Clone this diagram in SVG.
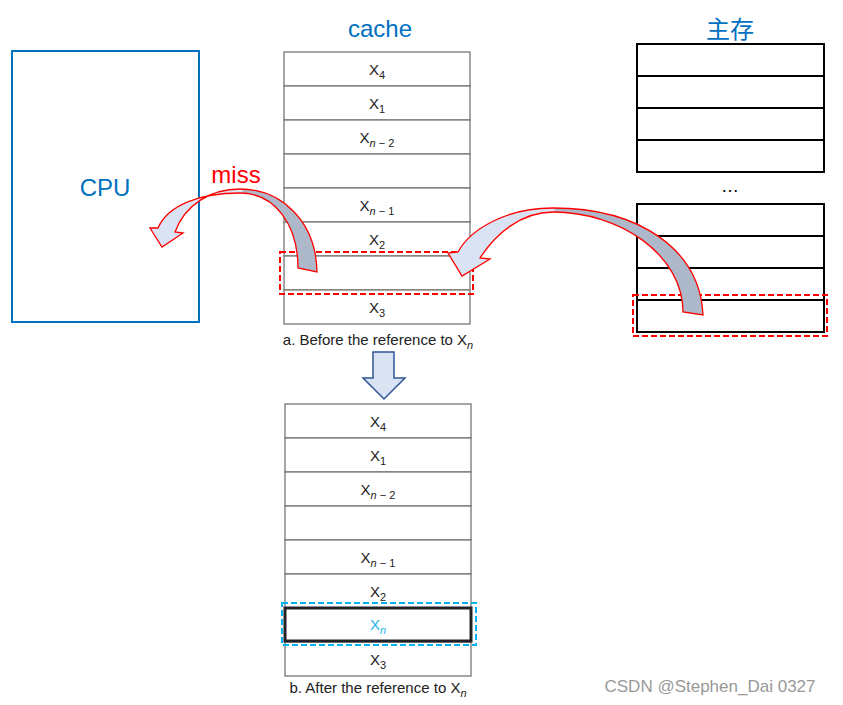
<svg xmlns="http://www.w3.org/2000/svg" width="843" height="705" viewBox="0 0 843 705">
<style>
.c{fill:#fff;stroke:#777;stroke-width:1.3}
.m{fill:#fff;stroke:#000;stroke-width:2}
.t{font-family:"Liberation Sans",Arial,sans-serif;font-size:15px;fill:#222;text-anchor:middle}
.s{font-size:11px}
.b{font-family:"Liberation Sans",Arial,sans-serif;font-size:24px;fill:#0070C0;text-anchor:middle}
.rd{fill:none;stroke:#f00;stroke-width:2;stroke-dasharray:6 3}
</style>
<defs>
<linearGradient id="g1" x1="0" x2="1"><stop offset="0.55" stop-color="#dae3f3"/><stop offset="0.56" stop-color="#adb9ca"/></linearGradient>
<linearGradient id="g2" gradientUnits="userSpaceOnUse" x1="440" x2="710" y1="0" y2="0"><stop offset="0.42" stop-color="#dae3f3"/><stop offset="0.43" stop-color="#adb9ca"/></linearGradient>
</defs>
<g id="cpu"><rect x="12" y="51" width="187" height="271" fill="#fff" stroke="#0070C0" stroke-width="2"/><text class="b" x="105" y="196">CPU</text></g>
<g id="cache-before">
<text class="b" x="380" y="37">cache</text>
<rect class="c" x="284" y="52" width="186" height="34"/><rect class="c" x="284" y="86" width="186" height="34"/><rect class="c" x="284" y="120" width="186" height="34"/><rect class="c" x="284" y="154" width="186" height="34"/><rect class="c" x="284" y="188" width="186" height="34"/><rect class="c" x="284" y="222" width="186" height="34"/><rect class="c" x="284" y="256" width="186" height="34"/><rect class="c" x="284" y="290" width="186" height="34"/>
<text class="t" x="377" y="75">X<tspan class="s" dy="4">4</tspan></text>
<text class="t" x="377" y="109">X<tspan class="s" dy="4">1</tspan></text>
<text class="t" x="377" y="143">X<tspan class="s" dy="4" font-style="italic">n</tspan><tspan class="s"> − 2</tspan></text>
<text class="t" x="377" y="211">X<tspan class="s" dy="4" font-style="italic">n</tspan><tspan class="s"> − 1</tspan></text>
<text class="t" x="377" y="245">X<tspan class="s" dy="4">2</tspan></text>
<text class="t" x="377" y="313">X<tspan class="s" dy="4">3</tspan></text>
<rect class="rd" x="280" y="252" width="193" height="42"/>
<text class="t" x="378" y="345" style="font-size:15px">a. Before the reference to X<tspan class="s" dy="4" font-style="italic">n</tspan></text>
</g>
<g id="memory">
<text class="b" x="730" y="38" style="font-family:'Noto Sans CJK SC',sans-serif">主存</text>
<rect class="m" x="637" y="44" width="187" height="32"/><rect class="m" x="637" y="76" width="187" height="32"/><rect class="m" x="637" y="108" width="187" height="32"/><rect class="m" x="637" y="140" width="187" height="32"/>
<text class="t" x="730" y="192" style="font-size:18px;fill:#000">…</text>
<rect class="m" x="637" y="204" width="187" height="32"/><rect class="m" x="637" y="236" width="187" height="32"/><rect class="m" x="637" y="268" width="187" height="32"/><rect class="m" x="637" y="300" width="187" height="32"/>
<rect class="rd" x="633" y="295" width="194" height="41"/>
</g>
<g id="cache-after">
<rect class="c" x="285" y="404" width="186" height="34"/><rect class="c" x="285" y="438" width="186" height="34"/><rect class="c" x="285" y="472" width="186" height="34"/><rect class="c" x="285" y="506" width="186" height="34"/><rect class="c" x="285" y="540" width="186" height="34"/><rect class="c" x="285" y="574" width="186" height="34"/><rect class="c" x="285" y="642" width="186" height="34"/>
<rect x="285" y="608" width="186" height="33" fill="#fff" stroke="#222" stroke-width="3"/>
<text class="t" x="378" y="427">X<tspan class="s" dy="4">4</tspan></text>
<text class="t" x="378" y="461">X<tspan class="s" dy="4">1</tspan></text>
<text class="t" x="378" y="495">X<tspan class="s" dy="4" font-style="italic">n</tspan><tspan class="s"> − 2</tspan></text>
<text class="t" x="378" y="563">X<tspan class="s" dy="4" font-style="italic">n</tspan><tspan class="s"> − 1</tspan></text>
<text class="t" x="378" y="597">X<tspan class="s" dy="4">2</tspan></text>
<text class="t" x="378" y="630" style="fill:#1fb4e8">X<tspan class="s" dy="4" font-style="italic">n</tspan></text>
<text class="t" x="378" y="665">X<tspan class="s" dy="4">3</tspan></text>
<rect x="282" y="603" width="194" height="42" fill="none" stroke="#00B0F0" stroke-width="2" stroke-dasharray="6 3"/>
<text class="t" x="378" y="693" style="font-size:15px">b. After the reference to X<tspan class="s" dy="4" font-style="italic">n</tspan></text>
</g>
<g id="connectors">
<path d="M317 272 C316 220 280 189 240 189 C210 189 185 205 175 232 L183 233 L162 247 L150 228 L158 228 C168 205 200 193 240 193 C275 193 298 225 298 268 Z" fill="url(#g1)" stroke="#f00" stroke-width="1.3"/>
<path d="M703 315 C700 250 640 208 553 208 C505 208 470 230 458 252 L448 253 L462 276 L490 259 L480 258 C495 235 520 212 553 212 C620 212 683 255 683 312 Z" fill="url(#g2)" stroke="#f00" stroke-width="1.3"/>
<path d="M373 352 H394 V378 H405 L384 399 L363 378 H373 Z" fill="#dae3f3" stroke="#2f5597" stroke-width="1.5"/>
</g>
<text x="236" y="183" font-family="'Liberation Sans',Arial,sans-serif" font-size="24" fill="#f00" text-anchor="middle">miss</text>
<text x="710" y="692" font-family="'Liberation Sans',Arial,sans-serif" font-size="17" fill="#999" text-anchor="middle">CSDN @Stephen_Dai 0327</text>
</svg>
